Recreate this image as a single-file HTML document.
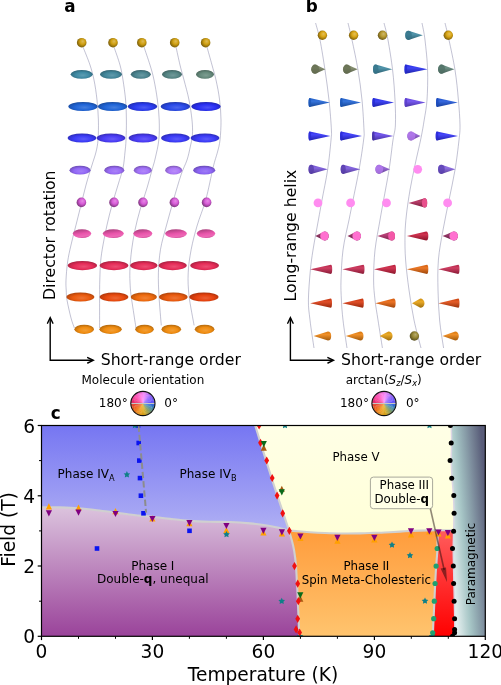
<!DOCTYPE html>
<html><head><meta charset="utf-8"><title>Figure</title><style>html,body{margin:0;padding:0;background:#fff}</style></head><body>
<svg width="501" height="685" viewBox="0 0 501 685" font-family="'DejaVu Sans','Liberation Sans',sans-serif" style="display:block"><defs><radialGradient id="rg1" cx="0.55" cy="0.45" r="0.62" fx="0.62" fy="0.34"><stop offset="0" stop-color="#debc59"/><stop offset="0.45" stop-color="#d0a012"/><stop offset="1" stop-color="#685009"/></radialGradient><radialGradient id="rg2" cx="0.5" cy="0.56" r="0.62" fx="0.56" fy="0.62"><stop offset="0" stop-color="#5e9db2"/><stop offset="0.5" stop-color="#3f8aa3"/><stop offset="1" stop-color="#2b5e6f"/></radialGradient><radialGradient id="rg3" cx="0.5" cy="0.56" r="0.62" fx="0.56" fy="0.62"><stop offset="0" stop-color="#619aab"/><stop offset="0.5" stop-color="#43879b"/><stop offset="1" stop-color="#2e5c69"/></radialGradient><radialGradient id="rg4" cx="0.5" cy="0.56" r="0.62" fx="0.56" fy="0.62"><stop offset="0" stop-color="#6999a2"/><stop offset="0.5" stop-color="#4c8590"/><stop offset="1" stop-color="#345a62"/></radialGradient><radialGradient id="rg5" cx="0.5" cy="0.56" r="0.62" fx="0.56" fy="0.62"><stop offset="0" stop-color="#729999"/><stop offset="0.5" stop-color="#578685"/><stop offset="1" stop-color="#3b5b5a"/></radialGradient><radialGradient id="rg6" cx="0.5" cy="0.56" r="0.62" fx="0.56" fy="0.62"><stop offset="0" stop-color="#7e9d91"/><stop offset="0.5" stop-color="#668a7c"/><stop offset="1" stop-color="#455e54"/></radialGradient><radialGradient id="rg7" cx="0.5" cy="0.56" r="0.62" fx="0.56" fy="0.62"><stop offset="0" stop-color="#447ede"/><stop offset="0.5" stop-color="#2065d8"/><stop offset="1" stop-color="#164593"/></radialGradient><radialGradient id="rg8" cx="0.5" cy="0.56" r="0.62" fx="0.56" fy="0.62"><stop offset="0" stop-color="#4c5bf2"/><stop offset="0.5" stop-color="#2a3cf0"/><stop offset="1" stop-color="#1d29a3"/></radialGradient><radialGradient id="rg9" cx="0.5" cy="0.56" r="0.62" fx="0.56" fy="0.62"><stop offset="0" stop-color="#4c67ec"/><stop offset="0.5" stop-color="#2a4ae8"/><stop offset="1" stop-color="#1d329e"/></radialGradient><radialGradient id="rg10" cx="0.5" cy="0.56" r="0.62" fx="0.56" fy="0.62"><stop offset="0" stop-color="#4c51f6"/><stop offset="0.5" stop-color="#2a30f4"/><stop offset="1" stop-color="#1d21a6"/></radialGradient><radialGradient id="rg11" cx="0.5" cy="0.56" r="0.62" fx="0.56" fy="0.62"><stop offset="0" stop-color="#5b5bf9"/><stop offset="0.5" stop-color="#3c3cf8"/><stop offset="1" stop-color="#2929a9"/></radialGradient><radialGradient id="rg12" cx="0.5" cy="0.56" r="0.62" fx="0.56" fy="0.62"><stop offset="0" stop-color="#675bf7"/><stop offset="0.5" stop-color="#4a3cf6"/><stop offset="1" stop-color="#3229a7"/></radialGradient><radialGradient id="rg13" cx="0.5" cy="0.56" r="0.62" fx="0.56" fy="0.62"><stop offset="0" stop-color="#a380f7"/><stop offset="0.5" stop-color="#9268f6"/><stop offset="1" stop-color="#6347a7"/></radialGradient><radialGradient id="rg14" cx="0.5" cy="0.56" r="0.62" fx="0.56" fy="0.62"><stop offset="0" stop-color="#aa84f7"/><stop offset="0.5" stop-color="#9a6cf6"/><stop offset="1" stop-color="#6949a7"/></radialGradient><radialGradient id="rg15" cx="0.5" cy="0.56" r="0.62" fx="0.56" fy="0.62"><stop offset="0" stop-color="#b189f9"/><stop offset="0.5" stop-color="#a272f8"/><stop offset="1" stop-color="#6e4ea9"/></radialGradient><radialGradient id="rg16" cx="0.5" cy="0.56" r="0.62" fx="0.56" fy="0.62"><stop offset="0" stop-color="#b98ef9"/><stop offset="0.5" stop-color="#ac78f8"/><stop offset="1" stop-color="#7552a9"/></radialGradient><radialGradient id="rg17" cx="0.5" cy="0.56" r="0.62" fx="0.56" fy="0.62"><stop offset="0" stop-color="#9e7df6"/><stop offset="0.5" stop-color="#8c64f4"/><stop offset="1" stop-color="#5f44a6"/></radialGradient><radialGradient id="rg18" cx="0.55" cy="0.45" r="0.62" fx="0.62" fy="0.34"><stop offset="0" stop-color="#e48de4"/><stop offset="0.45" stop-color="#d85cd8"/><stop offset="1" stop-color="#6c2e6c"/></radialGradient><linearGradient id="rg19" x1="0.2" y1="0" x2="0.5" y2="1"><stop offset="0" stop-color="#a43c78"/><stop offset="0.55" stop-color="#ea56ac"/><stop offset="0.85" stop-color="#ed6ab6"/><stop offset="1" stop-color="#d34d9b"/></linearGradient><radialGradient id="rg20" cx="0.5" cy="0.56" r="0.62" fx="0.56" fy="0.62"><stop offset="0" stop-color="#ea4e73"/><stop offset="0.5" stop-color="#e62c58"/><stop offset="1" stop-color="#9c1e3c"/></radialGradient><radialGradient id="rg21" cx="0.5" cy="0.56" r="0.62" fx="0.56" fy="0.62"><stop offset="0" stop-color="#ed7435"/><stop offset="0.5" stop-color="#ea5a0e"/><stop offset="1" stop-color="#9f3d0a"/></radialGradient><radialGradient id="rg22" cx="0.5" cy="0.56" r="0.62" fx="0.56" fy="0.62"><stop offset="0" stop-color="#ec6735"/><stop offset="0.5" stop-color="#e84a0e"/><stop offset="1" stop-color="#9e320a"/></radialGradient><radialGradient id="rg23" cx="0.5" cy="0.56" r="0.62" fx="0.56" fy="0.62"><stop offset="0" stop-color="#f18235"/><stop offset="0.5" stop-color="#ee6a0e"/><stop offset="1" stop-color="#a2480a"/></radialGradient><radialGradient id="rg24" cx="0.5" cy="0.56" r="0.62" fx="0.56" fy="0.62"><stop offset="0" stop-color="#ea6035"/><stop offset="0.5" stop-color="#e6420e"/><stop offset="1" stop-color="#9c2d0a"/></radialGradient><radialGradient id="rg25" cx="0.5" cy="0.56" r="0.62" fx="0.56" fy="0.62"><stop offset="0" stop-color="#f29e36"/><stop offset="0.5" stop-color="#f08c10"/><stop offset="1" stop-color="#a35f0b"/></radialGradient><radialGradient id="rg26" cx="0.55" cy="0.45" r="0.62" fx="0.62" fy="0.34"><stop offset="0" stop-color="#e4c05a"/><stop offset="0.45" stop-color="#d9a514"/><stop offset="1" stop-color="#6c520a"/></radialGradient><radialGradient id="rg27" cx="0.55" cy="0.45" r="0.62" fx="0.62" fy="0.34"><stop offset="0" stop-color="#cdb86e"/><stop offset="0.45" stop-color="#b89a30"/><stop offset="1" stop-color="#5c4d18"/></radialGradient><linearGradient id="lg28" x1="0" y1="0" x2="0" y2="1"><stop offset="0" stop-color="#397c93"/><stop offset="0.35" stop-color="#5296ac"/><stop offset="1" stop-color="#2b5e6f"/></linearGradient><linearGradient id="lg29" x1="0" y1="0" x2="0" y2="1"><stop offset="0" stop-color="#6e7758"/><stop offset="0.35" stop-color="#879072"/><stop offset="1" stop-color="#535a43"/></linearGradient><linearGradient id="lg30" x1="0" y1="0" x2="0" y2="1"><stop offset="0" stop-color="#262bdc"/><stop offset="0.35" stop-color="#3f45f5"/><stop offset="1" stop-color="#1d21a6"/></linearGradient><linearGradient id="lg31" x1="0" y1="0" x2="0" y2="1"><stop offset="0" stop-color="#56786c"/><stop offset="0.35" stop-color="#6f9186"/><stop offset="1" stop-color="#415a52"/></linearGradient><linearGradient id="lg32" x1="0" y1="0" x2="0" y2="1"><stop offset="0" stop-color="#1d5bc2"/><stop offset="0.35" stop-color="#3674dc"/><stop offset="1" stop-color="#164593"/></linearGradient><linearGradient id="lg33" x1="0" y1="0" x2="0" y2="1"><stop offset="0" stop-color="#5f41d6"/><stop offset="0.35" stop-color="#795af0"/><stop offset="1" stop-color="#4831a2"/></linearGradient><linearGradient id="lg34" x1="0" y1="0" x2="0" y2="1"><stop offset="0" stop-color="#1d4fc6"/><stop offset="0.35" stop-color="#3669e0"/><stop offset="1" stop-color="#163c96"/></linearGradient><linearGradient id="lg35" x1="0" y1="0" x2="0" y2="1"><stop offset="0" stop-color="#2d2de1"/><stop offset="0.35" stop-color="#4646fa"/><stop offset="1" stop-color="#2222aa"/></linearGradient><linearGradient id="lg36" x1="0" y1="0" x2="0" y2="1"><stop offset="0" stop-color="#5a3fd3"/><stop offset="0.35" stop-color="#7458ec"/><stop offset="1" stop-color="#44309f"/></linearGradient><linearGradient id="lg37" x1="0" y1="0" x2="0" y2="1"><stop offset="0" stop-color="#804fbb"/><stop offset="0.35" stop-color="#9969d5"/><stop offset="1" stop-color="#613c8d"/></linearGradient><linearGradient id="lg38" x1="0" y1="0" x2="0" y2="1"><stop offset="0" stop-color="#6c4dc6"/><stop offset="0.35" stop-color="#8667e0"/><stop offset="1" stop-color="#523a96"/></linearGradient><linearGradient id="lg39" x1="0" y1="0" x2="0" y2="1"><stop offset="0" stop-color="#7e51bb"/><stop offset="0.35" stop-color="#986ad5"/><stop offset="1" stop-color="#5f3d8d"/></linearGradient><linearGradient id="lg40" x1="0" y1="0" x2="0" y2="1"><stop offset="0" stop-color="#7756ca"/><stop offset="0.35" stop-color="#9070e3"/><stop offset="1" stop-color="#5a4198"/></linearGradient><linearGradient id="lg41" x1="0" y1="0" x2="0" y2="1"><stop offset="0" stop-color="#9e244f"/><stop offset="0.35" stop-color="#b83e69"/><stop offset="1" stop-color="#781b3c"/></linearGradient><linearGradient id="lg42" x1="0" y1="0" x2="0" y2="1"><stop offset="0" stop-color="#7c204f"/><stop offset="0.35" stop-color="#963a69"/><stop offset="1" stop-color="#5e183c"/></linearGradient><linearGradient id="lg43" x1="0" y1="0" x2="0" y2="1"><stop offset="0" stop-color="#9e285e"/><stop offset="0.35" stop-color="#b84177"/><stop offset="1" stop-color="#781e47"/></linearGradient><linearGradient id="lg44" x1="0" y1="0" x2="0" y2="1"><stop offset="0" stop-color="#b41936"/><stop offset="0.35" stop-color="#ce3350"/><stop offset="1" stop-color="#881329"/></linearGradient><linearGradient id="lg45" x1="0" y1="0" x2="0" y2="1"><stop offset="0" stop-color="#b42448"/><stop offset="0.35" stop-color="#ce3e62"/><stop offset="1" stop-color="#881b36"/></linearGradient><linearGradient id="lg46" x1="0" y1="0" x2="0" y2="1"><stop offset="0" stop-color="#b81d3a"/><stop offset="0.35" stop-color="#d13653"/><stop offset="1" stop-color="#8b162c"/></linearGradient><linearGradient id="lg47" x1="0" y1="0" x2="0" y2="1"><stop offset="0" stop-color="#d15e0d"/><stop offset="0.35" stop-color="#ea7726"/><stop offset="1" stop-color="#9e470a"/></linearGradient><linearGradient id="lg48" x1="0" y1="0" x2="0" y2="1"><stop offset="0" stop-color="#c6340e"/><stop offset="0.35" stop-color="#e04e28"/><stop offset="1" stop-color="#96270b"/></linearGradient><linearGradient id="lg49" x1="0" y1="0" x2="0" y2="1"><stop offset="0" stop-color="#d35a0d"/><stop offset="0.35" stop-color="#ec7426"/><stop offset="1" stop-color="#9f440a"/></linearGradient><linearGradient id="lg50" x1="0" y1="0" x2="0" y2="1"><stop offset="0" stop-color="#d1900e"/><stop offset="0.35" stop-color="#eaaa28"/><stop offset="1" stop-color="#9e6d0b"/></linearGradient><linearGradient id="lg51" x1="0" y1="0" x2="0" y2="1"><stop offset="0" stop-color="#ca430e"/><stop offset="0.35" stop-color="#e35c28"/><stop offset="1" stop-color="#98320b"/></linearGradient><linearGradient id="lg52" x1="0" y1="0" x2="0" y2="1"><stop offset="0" stop-color="#d6770e"/><stop offset="0.35" stop-color="#f09028"/><stop offset="1" stop-color="#a25a0b"/></linearGradient><radialGradient id="rg53" cx="0.55" cy="0.45" r="0.62" fx="0.62" fy="0.34"><stop offset="0" stop-color="#b8ad74"/><stop offset="0.45" stop-color="#9a8a38"/><stop offset="1" stop-color="#4d451c"/></radialGradient><radialGradient id="wg54" cx="0.5" cy="0.5" r="0.5"><stop offset="0" stop-color="#fff" stop-opacity="0.05"/><stop offset="0.6" stop-color="#fff" stop-opacity="0"/><stop offset="1" stop-color="#000" stop-opacity="0.10"/></radialGradient><radialGradient id="wg55" cx="0.5" cy="0.5" r="0.5"><stop offset="0" stop-color="#fff" stop-opacity="0.05"/><stop offset="0.6" stop-color="#fff" stop-opacity="0"/><stop offset="1" stop-color="#000" stop-opacity="0.10"/></radialGradient><clipPath id="ax"><rect x="41.5" y="425.5" width="443.8" height="210.79999999999995"/></clipPath><linearGradient id="gIV" x1="0" y1="425.5" x2="0" y2="530.9" gradientUnits="userSpaceOnUse"><stop offset="0" stop-color="#7676f2"/><stop offset="1" stop-color="#b0b0f4"/></linearGradient><linearGradient id="gI" x1="0" y1="506.3066666666666" x2="0" y2="636.3" gradientUnits="userSpaceOnUse"><stop offset="0" stop-color="#dcc4de"/><stop offset="1" stop-color="#9a439a"/></linearGradient><linearGradient id="gII" x1="0" y1="530.9" x2="0" y2="636.3" gradientUnits="userSpaceOnUse"><stop offset="0" stop-color="#ff9c3c"/><stop offset="1" stop-color="#ffc46e"/></linearGradient><linearGradient id="gIII" x1="0" y1="530.9" x2="0" y2="636.3" gradientUnits="userSpaceOnUse"><stop offset="0" stop-color="#ff5c5c"/><stop offset="1" stop-color="#ff0000"/></linearGradient><linearGradient id="gV" x1="0" y1="425.5" x2="0" y2="530.9" gradientUnits="userSpaceOnUse"><stop offset="0" stop-color="#ffffe6"/><stop offset="1" stop-color="#ffffd8"/></linearGradient><linearGradient id="gPM" x1="452" y1="636" x2="496.7" y2="632.5" gradientUnits="userSpaceOnUse"><stop offset="0.000" stop-color="#ffffff"/><stop offset="0.083" stop-color="#eef4f4"/><stop offset="0.167" stop-color="#dce9e9"/><stop offset="0.250" stop-color="#cbdede"/><stop offset="0.333" stop-color="#b9d2d2"/><stop offset="0.417" stop-color="#a8c7c7"/><stop offset="0.500" stop-color="#9cb8bc"/><stop offset="0.583" stop-color="#91a9b1"/><stop offset="0.667" stop-color="#869aa6"/><stop offset="0.750" stop-color="#7b8a9b"/><stop offset="0.833" stop-color="#707b8f"/><stop offset="0.917" stop-color="#646c84"/><stop offset="1.000" stop-color="#595c79"/></linearGradient></defs>
<path d="M83.0 47.0 C84.2 50.0 88.2 59.5 90.0 65.0 C91.8 70.5 92.8 74.2 94.0 80.0 C95.2 85.8 96.3 93.3 97.0 100.0 C97.7 106.7 98.2 113.3 98.4 120.0 C98.6 126.7 98.4 134.7 98.0 140.0 C97.6 145.3 97.0 147.8 96.0 152.0 C95.0 156.2 93.7 159.5 92.0 165.0 C90.3 170.5 87.8 178.3 86.0 185.0 C84.2 191.7 82.7 198.3 81.0 205.0 C79.3 211.7 77.7 218.3 76.0 225.0 C74.3 231.7 72.4 238.8 71.0 245.0 C69.6 251.2 68.4 256.2 67.6 262.0 C66.8 267.8 66.2 275.3 66.0 280.0 C65.8 284.7 66.0 286.7 66.2 290.0 C66.4 293.3 66.2 295.3 67.0 300.0 C67.8 304.7 69.8 313.3 71.0 318.0 C72.2 322.7 73.8 326.3 74.4 328.0" fill="none" stroke="#6c6c94" stroke-width="0.42"/>
<path d="M114.0 47.0 C115.0 50.0 118.5 59.5 120.0 65.0 C121.5 70.5 122.1 74.2 123.0 80.0 C123.9 85.8 125.0 93.3 125.6 100.0 C126.2 106.7 126.3 113.3 126.4 120.0 C126.5 126.7 126.2 134.7 126.0 140.0 C125.8 145.3 125.5 147.3 125.0 152.0 C124.5 156.7 124.2 162.5 123.0 168.0 C121.8 173.5 119.8 178.8 118.0 185.0 C116.2 191.2 113.8 198.3 112.0 205.0 C110.2 211.7 108.5 218.3 107.0 225.0 C105.5 231.7 104.1 238.8 103.0 245.0 C101.9 251.2 101.1 256.2 100.6 262.0 C100.1 267.8 100.0 273.7 99.8 280.0 C99.6 286.3 99.6 292.0 99.6 300.0 C99.6 308.0 99.6 323.3 99.6 328.0" fill="none" stroke="#6c6c94" stroke-width="0.42"/>
<path d="M144.0 47.0 C145.0 50.0 148.3 59.5 150.0 65.0 C151.7 70.5 152.8 74.2 154.0 80.0 C155.2 85.8 156.5 93.3 157.4 100.0 C158.3 106.7 159.0 113.3 159.2 120.0 C159.4 126.7 159.5 133.7 158.8 140.0 C158.2 146.3 156.4 153.0 155.3 158.0 C154.2 163.0 153.4 165.0 152.0 170.0 C150.6 175.0 149.0 181.3 147.0 188.0 C145.0 194.7 142.0 203.0 140.0 210.0 C138.0 217.0 136.4 223.3 135.0 230.0 C133.6 236.7 132.4 243.7 131.6 250.0 C130.8 256.3 130.3 262.7 130.0 268.0 C129.7 273.3 129.8 277.5 130.0 282.0 C130.2 286.5 130.3 289.5 131.0 295.0 C131.7 300.5 133.2 309.5 134.0 315.0 C134.8 320.5 135.7 325.8 136.0 328.0" fill="none" stroke="#6c6c94" stroke-width="0.42"/>
<path d="M176.0 47.0 C176.7 50.0 178.7 59.5 180.0 65.0 C181.3 70.5 182.5 74.2 184.0 80.0 C185.5 85.8 187.7 93.3 189.0 100.0 C190.3 106.7 191.4 114.2 192.0 120.0 C192.6 125.8 192.7 130.3 192.4 135.0 C192.1 139.7 190.9 143.8 190.0 148.0 C189.1 152.2 188.5 155.5 187.0 160.0 C185.5 164.5 183.2 168.4 181.0 175.0 C178.8 181.6 176.0 191.2 173.6 199.7 C171.2 208.2 168.5 217.7 166.3 226.0 C164.1 234.3 161.8 241.6 160.5 249.4 C159.2 257.2 158.7 265.0 158.4 272.8 C158.2 280.6 158.5 287.4 159.0 296.2 C159.5 305.0 160.9 320.5 161.3 325.4" fill="none" stroke="#6c6c94" stroke-width="0.42"/>
<path d="M207.0 47.0 C207.8 50.0 210.5 59.5 212.0 65.0 C213.5 70.5 214.7 74.2 216.0 80.0 C217.3 85.8 218.8 93.3 219.6 100.0 C220.4 106.7 220.9 113.3 221.0 120.0 C221.1 126.7 220.6 134.7 220.0 140.0 C219.4 145.3 218.7 147.4 217.5 152.0 C216.3 156.6 215.0 159.6 213.1 167.5 C211.2 175.4 208.5 189.9 205.8 199.7 C203.1 209.4 199.4 217.7 197.0 226.0 C194.6 234.3 192.7 241.6 191.2 249.4 C189.7 257.2 188.5 265.0 188.2 272.8 C187.8 280.6 188.1 287.4 189.1 296.2 C190.1 305.0 193.3 320.5 194.1 325.4" fill="none" stroke="#6c6c94" stroke-width="0.42"/>
<ellipse cx="81.7" cy="42.7" rx="4.8" ry="4.8" fill="url(#rg1)"/>
<ellipse cx="113" cy="42.7" rx="4.8" ry="4.8" fill="url(#rg1)"/>
<ellipse cx="141.8" cy="42.7" rx="4.8" ry="4.8" fill="url(#rg1)"/>
<ellipse cx="174.7" cy="42.7" rx="4.8" ry="4.8" fill="url(#rg1)"/>
<ellipse cx="205.6" cy="42.7" rx="4.8" ry="4.8" fill="url(#rg1)"/>
<ellipse cx="81.7" cy="74.3" rx="11" ry="4.4" fill="url(#rg2)"/>
<ellipse cx="111" cy="74.3" rx="11" ry="4.4" fill="url(#rg3)"/>
<ellipse cx="140.8" cy="74.3" rx="10" ry="4.4" fill="url(#rg4)"/>
<ellipse cx="172" cy="74.3" rx="10" ry="4.4" fill="url(#rg5)"/>
<ellipse cx="205" cy="74.3" rx="9" ry="4.4" fill="url(#rg6)"/>
<ellipse cx="83" cy="106.5" rx="14.6" ry="4.5" fill="url(#rg7)"/>
<ellipse cx="112.6" cy="106.5" rx="14.6" ry="4.5" fill="url(#rg7)"/>
<ellipse cx="142.5" cy="106.5" rx="14.6" ry="4.5" fill="url(#rg8)"/>
<ellipse cx="175.4" cy="106.5" rx="14.6" ry="4.5" fill="url(#rg9)"/>
<ellipse cx="206" cy="106.5" rx="14.6" ry="4.5" fill="url(#rg10)"/>
<ellipse cx="82" cy="138" rx="14.3" ry="4.5" fill="url(#rg11)"/>
<ellipse cx="111" cy="138" rx="14.3" ry="4.5" fill="url(#rg12)"/>
<ellipse cx="143" cy="138" rx="14.3" ry="4.5" fill="url(#rg12)"/>
<ellipse cx="175.4" cy="138" rx="14.3" ry="4.5" fill="url(#rg11)"/>
<ellipse cx="205" cy="138" rx="14.3" ry="4.5" fill="url(#rg11)"/>
<ellipse cx="80" cy="170.2" rx="10.5" ry="4.4" fill="url(#rg13)"/>
<ellipse cx="114.3" cy="170.2" rx="10" ry="4.4" fill="url(#rg14)"/>
<ellipse cx="142.8" cy="170.2" rx="9" ry="4.4" fill="url(#rg15)"/>
<ellipse cx="173.7" cy="170.2" rx="8.5" ry="4.4" fill="url(#rg16)"/>
<ellipse cx="204.2" cy="170.2" rx="11" ry="4.4" fill="url(#rg17)"/>
<ellipse cx="81.4" cy="202.4" rx="4.8" ry="4.8" fill="url(#rg18)"/>
<ellipse cx="114" cy="202.4" rx="4.8" ry="4.8" fill="url(#rg18)"/>
<ellipse cx="143" cy="202.4" rx="4.8" ry="4.8" fill="url(#rg18)"/>
<ellipse cx="174.4" cy="202.4" rx="4.8" ry="4.8" fill="url(#rg18)"/>
<ellipse cx="206.6" cy="202.4" rx="4.8" ry="4.8" fill="url(#rg18)"/>
<ellipse cx="82" cy="233.6" rx="9.2" ry="4.4" fill="url(#rg19)"/>
<ellipse cx="113.3" cy="233.6" rx="10.5" ry="4.4" fill="url(#rg19)"/>
<ellipse cx="142.8" cy="233.6" rx="9.5" ry="4.4" fill="url(#rg19)"/>
<ellipse cx="176" cy="233.6" rx="10.9" ry="4.4" fill="url(#rg19)"/>
<ellipse cx="206" cy="233.6" rx="9.2" ry="4.4" fill="url(#rg19)"/>
<ellipse cx="82.4" cy="265.6" rx="14.6" ry="4.6" fill="url(#rg20)"/>
<ellipse cx="114" cy="265.6" rx="14.3" ry="4.6" fill="url(#rg20)"/>
<ellipse cx="143.8" cy="265.6" rx="13.6" ry="4.6" fill="url(#rg20)"/>
<ellipse cx="172.7" cy="265.6" rx="14" ry="4.6" fill="url(#rg20)"/>
<ellipse cx="204.6" cy="265.6" rx="14.3" ry="4.6" fill="url(#rg20)"/>
<ellipse cx="80.4" cy="297" rx="13.9" ry="4.6" fill="url(#rg21)"/>
<ellipse cx="114" cy="297" rx="14.3" ry="4.6" fill="url(#rg22)"/>
<ellipse cx="143.8" cy="297" rx="13" ry="4.6" fill="url(#rg23)"/>
<ellipse cx="173.3" cy="297" rx="14.3" ry="4.6" fill="url(#rg21)"/>
<ellipse cx="203.9" cy="297" rx="14.6" ry="4.6" fill="url(#rg24)"/>
<ellipse cx="84.2" cy="329.3" rx="9.8" ry="4.6" fill="url(#rg25)"/>
<ellipse cx="110.6" cy="329.3" rx="11.2" ry="4.6" fill="url(#rg25)"/>
<ellipse cx="144.5" cy="329.3" rx="9.3" ry="4.6" fill="url(#rg25)"/>
<ellipse cx="171.3" cy="329.3" rx="9.8" ry="4.6" fill="url(#rg25)"/>
<ellipse cx="204.6" cy="329.3" rx="9.8" ry="4.6" fill="url(#rg25)"/>
<path d="M315.6 23.0 C316.3 25.8 318.4 32.2 320.0 40.0 C321.6 47.8 323.5 60.0 325.0 70.0 C326.5 80.0 327.9 90.0 329.0 100.0 C330.1 110.0 331.1 123.3 331.4 130.0 C331.7 136.7 331.6 133.3 331.0 140.0 C330.4 146.7 329.1 160.0 327.6 170.0 C326.1 180.0 323.5 191.7 322.0 200.0 C320.5 208.3 319.9 211.7 318.4 220.0 C316.9 228.3 314.3 241.7 313.0 250.0 C311.7 258.3 311.2 261.7 310.4 270.0 C309.6 278.3 308.5 291.7 308.4 300.0 C308.3 308.3 309.1 312.0 310.0 320.0 C310.9 328.0 313.3 343.3 314.0 348.0" fill="none" stroke="#6c6c94" stroke-width="0.42"/>
<path d="M348.0 23.0 C348.7 25.8 350.3 32.2 352.0 40.0 C353.7 47.8 356.3 60.0 358.0 70.0 C359.7 80.0 361.0 90.0 362.0 100.0 C363.0 110.0 363.7 123.3 364.0 130.0 C364.3 136.7 364.4 133.3 363.6 140.0 C362.8 146.7 360.8 160.0 359.0 170.0 C357.2 180.0 354.7 191.7 353.0 200.0 C351.3 208.3 350.7 211.7 349.0 220.0 C347.3 228.3 344.3 240.0 343.0 250.0 C341.7 260.0 341.3 271.7 341.0 280.0 C340.7 288.3 341.1 293.3 341.4 300.0 C341.7 306.7 342.1 312.0 343.0 320.0 C343.9 328.0 346.3 343.3 347.0 348.0" fill="none" stroke="#6c6c94" stroke-width="0.42"/>
<path d="M384.0 23.0 C384.7 25.8 386.6 32.2 388.0 40.0 C389.4 47.8 391.4 60.0 392.6 70.0 C393.8 80.0 394.5 90.8 395.0 100.0 C395.5 109.2 395.7 118.3 395.4 125.0 C395.1 131.7 394.1 132.5 393.0 140.0 C391.9 147.5 390.6 160.0 389.0 170.0 C387.4 180.0 385.1 191.7 383.6 200.0 C382.1 208.3 381.4 211.7 380.0 220.0 C378.6 228.3 376.1 240.0 375.0 250.0 C373.9 260.0 373.6 271.7 373.6 280.0 C373.6 288.3 374.3 293.3 375.0 300.0 C375.7 306.7 376.8 312.0 378.0 320.0 C379.2 328.0 381.7 343.3 382.4 348.0" fill="none" stroke="#6c6c94" stroke-width="0.42"/>
<path d="M422.0 23.0 C422.5 25.8 424.1 32.2 425.0 40.0 C425.9 47.8 427.3 60.0 427.6 70.0 C427.9 80.0 427.6 91.7 427.0 100.0 C426.4 108.3 425.2 113.7 424.2 120.0 C423.2 126.3 422.5 130.5 421.0 138.0 C419.5 145.5 416.8 156.3 415.0 165.0 C413.2 173.7 411.4 181.7 410.0 190.0 C408.6 198.3 407.2 207.5 406.4 215.0 C405.6 222.5 405.1 227.5 405.0 235.0 C404.9 242.5 404.9 250.8 405.6 260.0 C406.3 269.2 407.6 280.0 409.0 290.0 C410.4 300.0 412.0 310.3 414.0 320.0 C416.0 329.7 419.8 343.3 421.0 348.0" fill="none" stroke="#6c6c94" stroke-width="0.42"/>
<path d="M445.0 23.0 C445.7 25.8 447.3 32.2 449.0 40.0 C450.7 47.8 453.4 60.0 455.0 70.0 C456.6 80.0 457.6 90.8 458.4 100.0 C459.2 109.2 459.9 118.3 460.0 125.0 C460.1 131.7 459.8 132.5 459.0 140.0 C458.2 147.5 456.7 160.0 455.0 170.0 C453.3 180.0 451.0 190.0 449.0 200.0 C447.0 210.0 444.8 220.0 443.0 230.0 C441.2 240.0 439.2 250.0 438.4 260.0 C437.6 270.0 437.8 280.0 438.0 290.0 C438.2 300.0 438.7 310.3 439.6 320.0 C440.5 329.7 442.9 343.3 443.6 348.0" fill="none" stroke="#6c6c94" stroke-width="0.42"/>
<circle cx="322.4" cy="35.3" r="4.7" fill="url(#rg26)"/>
<circle cx="353.6" cy="35.3" r="4.7" fill="url(#rg26)"/>
<circle cx="382.5" cy="35.3" r="4.7" fill="url(#rg27)"/>
<path d="M408.5 30.699999999999996 L422.8 35.3 L408.5 39.9 A3.29 4.6 0 0 1 408.5 30.699999999999996Z" fill="url(#lg28)"/>
<ellipse cx="408.5" cy="35.3" rx="3.29" ry="4.6" fill="#357489" opacity="0.75"/>
<circle cx="448.3" cy="35.3" r="4.7" fill="url(#rg26)"/>
<path d="M315.2 64.60000000000001 L325.4 69.2 L315.2 73.8 A3.99 4.6 0 0 1 315.2 64.60000000000001Z" fill="url(#lg29)"/>
<ellipse cx="315.2" cy="69.2" rx="3.99" ry="4.6" fill="#666f52" opacity="0.75"/>
<path d="M346.9 64.60000000000001 L357.7 69.2 L346.9 73.8 A3.91 4.6 0 0 1 346.9 64.60000000000001Z" fill="url(#lg29)"/>
<ellipse cx="346.9" cy="69.2" rx="3.91" ry="4.6" fill="#666f52" opacity="0.75"/>
<path d="M375.7 64.60000000000001 L392.3 69.2 L375.7 73.8 A2.7 4.6 0 0 1 375.7 64.60000000000001Z" fill="url(#lg28)"/>
<ellipse cx="375.7" cy="69.2" rx="2.7" ry="4.6" fill="#357489" opacity="0.75"/>
<path d="M405.8 64.60000000000001 L427.6 69.2 L405.8 73.8 A1.3 4.6 0 0 1 405.8 64.60000000000001Z" fill="url(#lg30)"/>
<ellipse cx="405.8" cy="69.2" rx="1.3" ry="4.6" fill="#2328cd" opacity="0.75"/>
<path d="M441.6 64.60000000000001 L454.4 69.2 L441.6 73.8 A3.59 4.6 0 0 1 441.6 64.60000000000001Z" fill="url(#lg31)"/>
<ellipse cx="441.6" cy="69.2" rx="3.59" ry="4.6" fill="#507065" opacity="0.75"/>
<path d="M309.8 97.9 L329.9 102.5 L309.8 107.1 A1.3 4.6 0 0 1 309.8 97.9Z" fill="url(#lg32)"/>
<ellipse cx="309.8" cy="102.5" rx="1.3" ry="4.6" fill="#1b55b5" opacity="0.75"/>
<path d="M341.3 97.9 L361 102.5 L341.3 107.1 A1.3 4.6 0 0 1 341.3 97.9Z" fill="url(#lg32)"/>
<ellipse cx="341.3" cy="102.5" rx="1.3" ry="4.6" fill="#1b55b5" opacity="0.75"/>
<path d="M373.6 97.9 L394 102.5 L373.6 107.1 A1.3 4.6 0 0 1 373.6 97.9Z" fill="url(#lg30)"/>
<ellipse cx="373.6" cy="102.5" rx="1.3" ry="4.6" fill="#2328cd" opacity="0.75"/>
<path d="M405.8 97.9 L425.6 102.5 L405.8 107.1 A1.3 4.6 0 0 1 405.8 97.9Z" fill="url(#lg33)"/>
<ellipse cx="405.8" cy="102.5" rx="1.3" ry="4.6" fill="#593cc8" opacity="0.75"/>
<path d="M437.3 97.9 L457.8 102.5 L437.3 107.1 A1.3 4.6 0 0 1 437.3 97.9Z" fill="url(#lg34)"/>
<ellipse cx="437.3" cy="102.5" rx="1.3" ry="4.6" fill="#1b4ab9" opacity="0.75"/>
<path d="M309.8 131.4 L330.5 136 L309.8 140.6 A1.3 4.6 0 0 1 309.8 131.4Z" fill="url(#lg35)"/>
<ellipse cx="309.8" cy="136" rx="1.3" ry="4.6" fill="#2a2ad2" opacity="0.75"/>
<path d="M341.3 131.4 L362 136 L341.3 140.6 A1.3 4.6 0 0 1 341.3 131.4Z" fill="url(#lg35)"/>
<ellipse cx="341.3" cy="136" rx="1.3" ry="4.6" fill="#2a2ad2" opacity="0.75"/>
<path d="M373.3 131.4 L393.3 136 L373.3 140.6 A1.3 4.6 0 0 1 373.3 131.4Z" fill="url(#lg36)"/>
<ellipse cx="373.3" cy="136" rx="1.3" ry="4.6" fill="#40309c" opacity="0.75"/>
<path d="M411.3 131.4 L420.5 136 L411.3 140.6 A4.11 4.6 0 0 1 411.3 131.4Z" fill="url(#lg37)"/>
<ellipse cx="411.3" cy="136" rx="4.11" ry="4.6" fill="#b87cf2" opacity="0.75"/>
<path d="M437.0 131.4 L458 136 L437.0 140.6 A1.3 4.6 0 0 1 437.0 131.4Z" fill="url(#lg35)"/>
<ellipse cx="437.0" cy="136" rx="1.3" ry="4.6" fill="#2a2ad2" opacity="0.75"/>
<path d="M311.2 164.70000000000002 L327.8 169.3 L311.2 173.9 A2.7 4.6 0 0 1 311.2 164.70000000000002Z" fill="url(#lg38)"/>
<ellipse cx="311.2" cy="169.3" rx="2.7" ry="4.6" fill="#553ca8" opacity="0.75"/>
<path d="M343.2 164.70000000000002 L360.4 169.3 L343.2 173.9 A2.51 4.6 0 0 1 343.2 164.70000000000002Z" fill="url(#lg38)"/>
<ellipse cx="343.2" cy="169.3" rx="2.51" ry="4.6" fill="#553ca8" opacity="0.75"/>
<path d="M379.2 164.70000000000002 L390 169.3 L379.2 173.9 A3.91 4.6 0 0 1 379.2 164.70000000000002Z" fill="url(#lg39)"/>
<ellipse cx="379.2" cy="169.3" rx="3.91" ry="4.6" fill="#b87cf2" opacity="0.75"/>
<circle cx="417.7" cy="169.3" r="4.4" fill="#ff8cf0"/>
<path d="M441.4 164.70000000000002 L455.4 169.3 L441.4 173.9 A3.35 4.6 0 0 1 441.4 164.70000000000002Z" fill="url(#lg40)"/>
<ellipse cx="441.4" cy="169.3" rx="3.35" ry="4.6" fill="#5a40b0" opacity="0.75"/>
<circle cx="318" cy="202.9" r="4.4" fill="#ff8cf0"/>
<circle cx="350.6" cy="202.9" r="4.4" fill="#ff8cf0"/>
<circle cx="386.5" cy="202.9" r="4.4" fill="#ff8cf0"/>
<path d="M424.6 198.3 L408.6 202.9 L424.6 207.5 A2.6 4.6 0 0 0 424.6 198.3Z" fill="url(#lg41)"/>
<ellipse cx="424.6" cy="202.9" rx="2.6" ry="4.6" fill="#e8508c"/>
<circle cx="447.6" cy="202.9" r="4.4" fill="#ff8cf0"/>
<path d="M324.5 231.4 L315.3 236 L324.5 240.6 A4.3 4.6 0 0 0 324.5 231.4Z" fill="url(#lg42)"/>
<ellipse cx="324.5" cy="236" rx="4.3" ry="4.6" fill="#ff70d0"/>
<path d="M356.7 231.4 L347.5 236 L356.7 240.6 A4.3 4.6 0 0 0 356.7 231.4Z" fill="url(#lg42)"/>
<ellipse cx="356.7" cy="236" rx="4.3" ry="4.6" fill="#ff70d0"/>
<path d="M391.6 231.4 L377.4 236 L391.6 240.6 A3.4 4.6 0 0 0 391.6 231.4Z" fill="url(#lg43)"/>
<ellipse cx="391.6" cy="236" rx="3.4" ry="4.6" fill="#f458a8"/>
<path d="M426.1 231.4 L406.9 236 L426.1 240.6 A2.2 4.6 0 0 0 426.1 231.4Z" fill="url(#lg44)"/>
<path d="M453.7 231.4 L442.5 236 L453.7 240.6 A4.3 4.6 0 0 0 453.7 231.4Z" fill="url(#lg42)"/>
<ellipse cx="453.7" cy="236" rx="4.3" ry="4.6" fill="#ff70d0"/>
<path d="M330.9 264.7 L310.2 269.3 L330.9 273.90000000000003 A1.3 4.6 0 0 0 330.9 264.7Z" fill="url(#lg45)"/>
<path d="M363.2 264.7 L342.4 269.3 L363.2 273.90000000000003 A1.3 4.6 0 0 0 363.2 264.7Z" fill="url(#lg45)"/>
<path d="M394.7 264.7 L374 269.3 L394.7 273.90000000000003 A1.3 4.6 0 0 0 394.7 264.7Z" fill="url(#lg46)"/>
<path d="M427.0 264.7 L406.9 269.3 L427.0 273.90000000000003 A1.3 4.6 0 0 0 427.0 264.7Z" fill="url(#lg47)"/>
<path d="M458.2 264.7 L438.4 269.3 L458.2 273.90000000000003 A1.3 4.6 0 0 0 458.2 264.7Z" fill="url(#lg45)"/>
<path d="M330.7 298.59999999999997 L310.2 303.2 L330.7 307.8 A1.3 4.6 0 0 0 330.7 298.59999999999997Z" fill="url(#lg48)"/>
<path d="M362.5 298.59999999999997 L342.4 303.2 L362.5 307.8 A1.3 4.6 0 0 0 362.5 298.59999999999997Z" fill="url(#lg48)"/>
<path d="M393.6 298.59999999999997 L375.3 303.2 L393.6 307.8 A2.05 4.6 0 0 0 393.6 298.59999999999997Z" fill="url(#lg49)"/>
<path d="M420.3 298.59999999999997 L412 303.2 L420.3 307.8 A4.21 4.6 0 0 0 420.3 298.59999999999997Z" fill="url(#lg50)"/>
<path d="M458.2 298.59999999999997 L438.4 303.2 L458.2 307.8 A1.3 4.6 0 0 0 458.2 298.59999999999997Z" fill="url(#lg51)"/>
<path d="M327.9 331.4 L313.6 336 L327.9 340.6 A3.29 4.6 0 0 0 327.9 331.4Z" fill="url(#lg52)"/>
<path d="M360.2 331.4 L345.8 336 L360.2 340.6 A3.26 4.6 0 0 0 360.2 331.4Z" fill="url(#lg52)"/>
<path d="M388.4 331.4 L379.7 336 L388.4 340.6 A4.16 4.6 0 0 0 388.4 331.4Z" fill="url(#lg50)"/>
<circle cx="414.4" cy="336" r="4.7" fill="url(#rg53)"/>
<path d="M455.2 331.4 L442.5 336 L455.2 340.6 A3.61 4.6 0 0 0 455.2 331.4Z" fill="url(#lg52)"/>
<text x="64.3" y="12" font-size="16.8" text-anchor="start" font-weight="bold" fill="#000" >a</text>
<text x="305.8" y="12" font-size="16.8" text-anchor="start" font-weight="bold" fill="#000" >b</text>
<text x="50.8" y="419.2" font-size="16.8" text-anchor="start" font-weight="bold" fill="#000" >c</text>
<text x="100.7" y="364.8" font-size="15.7" text-anchor="start" font-weight="normal" fill="#000" >Short-range order</text>
<text x="341.1" y="364.8" font-size="15.7" text-anchor="start" font-weight="normal" fill="#000" >Short-range order</text>
<text transform="translate(54.6,235.2) rotate(-90)" font-size="15.7" text-anchor="middle">Director rotation</text>
<text transform="translate(296,235.6) rotate(-90)" font-size="15.7" text-anchor="middle">Long-range helix</text>
<text x="142.9" y="383.5" font-size="12.0" text-anchor="middle" font-weight="normal" fill="#000" >Molecule orientation</text>
<text x="383.7" y="383.5" font-size="12.0" text-anchor="middle" font-weight="normal" fill="#000" >arctan(<tspan font-style="italic">S</tspan><tspan font-style="italic" font-size="8.2" dy="2.2">z</tspan><tspan dy="-2.2">/</tspan><tspan font-style="italic">S</tspan><tspan font-style="italic" font-size="8.2" dy="2.2">x</tspan><tspan dy="-2.2">)</tspan></text>
<text x="127.7" y="407.4" font-size="12.0" text-anchor="end" font-weight="normal" fill="#000" >180°</text>
<text x="164.3" y="407.4" font-size="12.0" text-anchor="start" font-weight="normal" fill="#000" >0°</text>
<text x="368.9" y="407.4" font-size="12.0" text-anchor="end" font-weight="normal" fill="#000" >180°</text>
<text x="405.9" y="407.4" font-size="12.0" text-anchor="start" font-weight="normal" fill="#000" >0°</text>
<path d="M50.2 318.2 L50.2 360.3 L92.5 360.3" fill="none" stroke="#000" stroke-width="1.4" stroke-linejoin="miter"/>
<path d="M47.5 323.2 L50.2 317.6 L52.900000000000006 323.2" fill="none" stroke="#000" stroke-width="1.4" stroke-linecap="round" stroke-linejoin="miter"/>
<path d="M87.7 357.6 L93.30000000000001 360.3 L87.7 363.0" fill="none" stroke="#000" stroke-width="1.4" stroke-linecap="round" stroke-linejoin="miter"/>
<path d="M290.4 318.2 L290.4 360.3 L332.7 360.3" fill="none" stroke="#000" stroke-width="1.4" stroke-linejoin="miter"/>
<path d="M287.7 323.2 L290.4 317.6 L293.09999999999997 323.2" fill="none" stroke="#000" stroke-width="1.4" stroke-linecap="round" stroke-linejoin="miter"/>
<path d="M327.9 357.6 L333.5 360.3 L327.9 363.0" fill="none" stroke="#000" stroke-width="1.4" stroke-linecap="round" stroke-linejoin="miter"/>
<path d="M142.9 403.5 L155.00 403.50 A12.1 12.1 0 0 0 154.93 402.20Z" fill="#483aff"/>
<path d="M142.9 403.5 L154.95 402.45 A12.1 12.1 0 0 0 154.77 401.16Z" fill="#5140ff"/>
<path d="M142.9 403.5 L154.82 401.40 A12.1 12.1 0 0 0 154.52 400.14Z" fill="#5a44ff"/>
<path d="M142.9 403.5 L154.59 400.37 A12.1 12.1 0 0 0 154.19 399.13Z" fill="#634aff"/>
<path d="M142.9 403.5 L154.27 399.36 A12.1 12.1 0 0 0 153.76 398.17Z" fill="#6b4eff"/>
<path d="M142.9 403.5 L153.87 398.39 A12.1 12.1 0 0 0 153.26 397.24Z" fill="#7454ff"/>
<path d="M142.9 403.5 L153.38 397.45 A12.1 12.1 0 0 0 152.67 396.36Z" fill="#7d58ff"/>
<path d="M142.9 403.5 L152.81 396.56 A12.1 12.1 0 0 0 152.01 395.54Z" fill="#865eff"/>
<path d="M142.9 403.5 L152.17 395.72 A12.1 12.1 0 0 0 151.28 394.77Z" fill="#9062ff"/>
<path d="M142.9 403.5 L151.46 394.94 A12.1 12.1 0 0 0 150.49 394.08Z" fill="#9d66ff"/>
<path d="M142.9 403.5 L150.68 394.23 A12.1 12.1 0 0 0 149.64 393.45Z" fill="#aa6aff"/>
<path d="M142.9 403.5 L149.84 393.59 A12.1 12.1 0 0 0 148.74 392.90Z" fill="#b76eff"/>
<path d="M142.9 403.5 L148.95 393.02 A12.1 12.1 0 0 0 147.79 392.43Z" fill="#c372ff"/>
<path d="M142.9 403.5 L148.01 392.53 A12.1 12.1 0 0 0 146.81 392.05Z" fill="#d076ff"/>
<path d="M142.9 403.5 L147.04 392.13 A12.1 12.1 0 0 0 145.80 391.75Z" fill="#dd7aff"/>
<path d="M142.9 403.5 L146.03 391.81 A12.1 12.1 0 0 0 144.76 391.54Z" fill="#ea7eff"/>
<path d="M142.9 403.5 L145.00 391.58 A12.1 12.1 0 0 0 143.71 391.43Z" fill="#f27ffc"/>
<path d="M142.9 403.5 L143.95 391.45 A12.1 12.1 0 0 0 142.66 391.40Z" fill="#f67df6"/>
<path d="M142.9 403.5 L142.90 391.40 A12.1 12.1 0 0 0 141.60 391.47Z" fill="#f97bf1"/>
<path d="M142.9 403.5 L141.85 391.45 A12.1 12.1 0 0 0 140.56 391.63Z" fill="#fd79eb"/>
<path d="M142.9 403.5 L140.80 391.58 A12.1 12.1 0 0 0 139.54 391.88Z" fill="#ff74e4"/>
<path d="M142.9 403.5 L139.77 391.81 A12.1 12.1 0 0 0 138.53 392.21Z" fill="#ff6edc"/>
<path d="M142.9 403.5 L138.76 392.13 A12.1 12.1 0 0 0 137.57 392.64Z" fill="#ff66d4"/>
<path d="M142.9 403.5 L137.79 392.53 A12.1 12.1 0 0 0 136.64 393.14Z" fill="#ff60cc"/>
<path d="M142.9 403.5 L136.85 393.02 A12.1 12.1 0 0 0 135.76 393.73Z" fill="#ff58c4"/>
<path d="M142.9 403.5 L135.96 393.59 A12.1 12.1 0 0 0 134.94 394.39Z" fill="#ff52bc"/>
<path d="M142.9 403.5 L135.12 394.23 A12.1 12.1 0 0 0 134.17 395.12Z" fill="#ff4ab4"/>
<path d="M142.9 403.5 L134.34 394.94 A12.1 12.1 0 0 0 133.48 395.91Z" fill="#ff44ac"/>
<path d="M142.9 403.5 L133.63 395.72 A12.1 12.1 0 0 0 132.85 396.76Z" fill="#fe3ea3"/>
<path d="M142.9 403.5 L132.99 396.56 A12.1 12.1 0 0 0 132.30 397.66Z" fill="#fb3999"/>
<path d="M142.9 403.5 L132.42 397.45 A12.1 12.1 0 0 0 131.83 398.61Z" fill="#f8348e"/>
<path d="M142.9 403.5 L131.93 398.39 A12.1 12.1 0 0 0 131.45 399.59Z" fill="#f53084"/>
<path d="M142.9 403.5 L131.53 399.36 A12.1 12.1 0 0 0 131.15 400.60Z" fill="#f22b7a"/>
<path d="M142.9 403.5 L131.21 400.37 A12.1 12.1 0 0 0 130.94 401.64Z" fill="#ef2770"/>
<path d="M142.9 403.5 L130.98 401.40 A12.1 12.1 0 0 0 130.83 402.69Z" fill="#ec2265"/>
<path d="M142.9 403.5 L130.85 402.45 A12.1 12.1 0 0 0 130.80 403.74Z" fill="#e91d5b"/>
<path d="M142.9 403.5 L130.80 403.50 A12.1 12.1 0 0 0 130.87 404.80Z" fill="#e12b18"/>
<path d="M142.9 403.5 L130.85 404.55 A12.1 12.1 0 0 0 131.03 405.84Z" fill="#e33316"/>
<path d="M142.9 403.5 L130.98 405.60 A12.1 12.1 0 0 0 131.28 406.86Z" fill="#e53c15"/>
<path d="M142.9 403.5 L131.21 406.63 A12.1 12.1 0 0 0 131.61 407.87Z" fill="#e74514"/>
<path d="M142.9 403.5 L131.53 407.64 A12.1 12.1 0 0 0 132.04 408.83Z" fill="#e94e13"/>
<path d="M142.9 403.5 L131.93 408.61 A12.1 12.1 0 0 0 132.54 409.76Z" fill="#eb5712"/>
<path d="M142.9 403.5 L132.42 409.55 A12.1 12.1 0 0 0 133.13 410.64Z" fill="#ed6011"/>
<path d="M142.9 403.5 L132.99 410.44 A12.1 12.1 0 0 0 133.79 411.46Z" fill="#ee6810"/>
<path d="M142.9 403.5 L133.63 411.28 A12.1 12.1 0 0 0 134.52 412.23Z" fill="#ee6f10"/>
<path d="M142.9 403.5 L134.34 412.06 A12.1 12.1 0 0 0 135.31 412.92Z" fill="#ef7710"/>
<path d="M142.9 403.5 L135.12 412.77 A12.1 12.1 0 0 0 136.16 413.55Z" fill="#ef7e10"/>
<path d="M142.9 403.5 L135.96 413.41 A12.1 12.1 0 0 0 137.06 414.10Z" fill="#ef8510"/>
<path d="M142.9 403.5 L136.85 413.98 A12.1 12.1 0 0 0 138.01 414.57Z" fill="#f08d10"/>
<path d="M142.9 403.5 L137.79 414.47 A12.1 12.1 0 0 0 138.99 414.95Z" fill="#f09410"/>
<path d="M142.9 403.5 L138.76 414.87 A12.1 12.1 0 0 0 140.00 415.25Z" fill="#ee9911"/>
<path d="M142.9 403.5 L139.77 415.19 A12.1 12.1 0 0 0 141.04 415.46Z" fill="#ea9c12"/>
<path d="M142.9 403.5 L140.80 415.42 A12.1 12.1 0 0 0 142.09 415.57Z" fill="#e69f13"/>
<path d="M142.9 403.5 L141.85 415.55 A12.1 12.1 0 0 0 143.14 415.60Z" fill="#e2a115"/>
<path d="M142.9 403.5 L142.90 415.60 A12.1 12.1 0 0 0 144.20 415.53Z" fill="#dea416"/>
<path d="M142.9 403.5 L143.95 415.55 A12.1 12.1 0 0 0 145.24 415.37Z" fill="#daa717"/>
<path d="M142.9 403.5 L145.00 415.42 A12.1 12.1 0 0 0 146.26 415.12Z" fill="#d0a71e"/>
<path d="M142.9 403.5 L146.03 415.19 A12.1 12.1 0 0 0 147.27 414.79Z" fill="#c0a429"/>
<path d="M142.9 403.5 L147.04 414.87 A12.1 12.1 0 0 0 148.23 414.36Z" fill="#b0a134"/>
<path d="M142.9 403.5 L148.01 414.47 A12.1 12.1 0 0 0 149.16 413.86Z" fill="#a09f40"/>
<path d="M142.9 403.5 L148.95 413.98 A12.1 12.1 0 0 0 150.04 413.27Z" fill="#909c4b"/>
<path d="M142.9 403.5 L149.84 413.41 A12.1 12.1 0 0 0 150.86 412.61Z" fill="#809956"/>
<path d="M142.9 403.5 L150.68 412.77 A12.1 12.1 0 0 0 151.63 411.88Z" fill="#729664"/>
<path d="M142.9 403.5 L151.46 412.06 A12.1 12.1 0 0 0 152.32 411.09Z" fill="#659375"/>
<path d="M142.9 403.5 L152.17 411.28 A12.1 12.1 0 0 0 152.95 410.24Z" fill="#599086"/>
<path d="M142.9 403.5 L152.81 410.44 A12.1 12.1 0 0 0 153.50 409.34Z" fill="#4d8d97"/>
<path d="M142.9 403.5 L153.38 409.55 A12.1 12.1 0 0 0 153.97 408.39Z" fill="#408aa8"/>
<path d="M142.9 403.5 L153.87 408.61 A12.1 12.1 0 0 0 154.35 407.41Z" fill="#3783b6"/>
<path d="M142.9 403.5 L154.27 407.64 A12.1 12.1 0 0 0 154.65 406.40Z" fill="#3279c2"/>
<path d="M142.9 403.5 L154.59 406.63 A12.1 12.1 0 0 0 154.86 405.36Z" fill="#2c6fcd"/>
<path d="M142.9 403.5 L154.82 405.60 A12.1 12.1 0 0 0 154.97 404.31Z" fill="#2765d9"/>
<path d="M142.9 403.5 L154.95 404.55 A12.1 12.1 0 0 0 155.00 403.26Z" fill="#225be4"/>
<circle cx="142.9" cy="403.5" r="12.1" fill="url(#wg54)"/>
<path d="M130.8 403.5 L155.0 403.5" stroke="#c8c8c8" stroke-width="1"/>
<circle cx="142.9" cy="403.5" r="12.1" fill="none" stroke="#111" stroke-width="1.1"/>
<path d="M384.0 403.5 L396.10 403.50 A12.1 12.1 0 0 0 396.03 402.20Z" fill="#483aff"/>
<path d="M384.0 403.5 L396.05 402.45 A12.1 12.1 0 0 0 395.87 401.16Z" fill="#5140ff"/>
<path d="M384.0 403.5 L395.92 401.40 A12.1 12.1 0 0 0 395.62 400.14Z" fill="#5a44ff"/>
<path d="M384.0 403.5 L395.69 400.37 A12.1 12.1 0 0 0 395.29 399.13Z" fill="#634aff"/>
<path d="M384.0 403.5 L395.37 399.36 A12.1 12.1 0 0 0 394.86 398.17Z" fill="#6b4eff"/>
<path d="M384.0 403.5 L394.97 398.39 A12.1 12.1 0 0 0 394.36 397.24Z" fill="#7454ff"/>
<path d="M384.0 403.5 L394.48 397.45 A12.1 12.1 0 0 0 393.77 396.36Z" fill="#7d58ff"/>
<path d="M384.0 403.5 L393.91 396.56 A12.1 12.1 0 0 0 393.11 395.54Z" fill="#865eff"/>
<path d="M384.0 403.5 L393.27 395.72 A12.1 12.1 0 0 0 392.38 394.77Z" fill="#9062ff"/>
<path d="M384.0 403.5 L392.56 394.94 A12.1 12.1 0 0 0 391.59 394.08Z" fill="#9d66ff"/>
<path d="M384.0 403.5 L391.78 394.23 A12.1 12.1 0 0 0 390.74 393.45Z" fill="#aa6aff"/>
<path d="M384.0 403.5 L390.94 393.59 A12.1 12.1 0 0 0 389.84 392.90Z" fill="#b76eff"/>
<path d="M384.0 403.5 L390.05 393.02 A12.1 12.1 0 0 0 388.89 392.43Z" fill="#c372ff"/>
<path d="M384.0 403.5 L389.11 392.53 A12.1 12.1 0 0 0 387.91 392.05Z" fill="#d076ff"/>
<path d="M384.0 403.5 L388.14 392.13 A12.1 12.1 0 0 0 386.90 391.75Z" fill="#dd7aff"/>
<path d="M384.0 403.5 L387.13 391.81 A12.1 12.1 0 0 0 385.86 391.54Z" fill="#ea7eff"/>
<path d="M384.0 403.5 L386.10 391.58 A12.1 12.1 0 0 0 384.81 391.43Z" fill="#f27ffc"/>
<path d="M384.0 403.5 L385.05 391.45 A12.1 12.1 0 0 0 383.76 391.40Z" fill="#f67df6"/>
<path d="M384.0 403.5 L384.00 391.40 A12.1 12.1 0 0 0 382.70 391.47Z" fill="#f97bf1"/>
<path d="M384.0 403.5 L382.95 391.45 A12.1 12.1 0 0 0 381.66 391.63Z" fill="#fd79eb"/>
<path d="M384.0 403.5 L381.90 391.58 A12.1 12.1 0 0 0 380.64 391.88Z" fill="#ff74e4"/>
<path d="M384.0 403.5 L380.87 391.81 A12.1 12.1 0 0 0 379.63 392.21Z" fill="#ff6edc"/>
<path d="M384.0 403.5 L379.86 392.13 A12.1 12.1 0 0 0 378.67 392.64Z" fill="#ff66d4"/>
<path d="M384.0 403.5 L378.89 392.53 A12.1 12.1 0 0 0 377.74 393.14Z" fill="#ff60cc"/>
<path d="M384.0 403.5 L377.95 393.02 A12.1 12.1 0 0 0 376.86 393.73Z" fill="#ff58c4"/>
<path d="M384.0 403.5 L377.06 393.59 A12.1 12.1 0 0 0 376.04 394.39Z" fill="#ff52bc"/>
<path d="M384.0 403.5 L376.22 394.23 A12.1 12.1 0 0 0 375.27 395.12Z" fill="#ff4ab4"/>
<path d="M384.0 403.5 L375.44 394.94 A12.1 12.1 0 0 0 374.58 395.91Z" fill="#ff44ac"/>
<path d="M384.0 403.5 L374.73 395.72 A12.1 12.1 0 0 0 373.95 396.76Z" fill="#fe3ea3"/>
<path d="M384.0 403.5 L374.09 396.56 A12.1 12.1 0 0 0 373.40 397.66Z" fill="#fb3999"/>
<path d="M384.0 403.5 L373.52 397.45 A12.1 12.1 0 0 0 372.93 398.61Z" fill="#f8348e"/>
<path d="M384.0 403.5 L373.03 398.39 A12.1 12.1 0 0 0 372.55 399.59Z" fill="#f53084"/>
<path d="M384.0 403.5 L372.63 399.36 A12.1 12.1 0 0 0 372.25 400.60Z" fill="#f22b7a"/>
<path d="M384.0 403.5 L372.31 400.37 A12.1 12.1 0 0 0 372.04 401.64Z" fill="#ef2770"/>
<path d="M384.0 403.5 L372.08 401.40 A12.1 12.1 0 0 0 371.93 402.69Z" fill="#ec2265"/>
<path d="M384.0 403.5 L371.95 402.45 A12.1 12.1 0 0 0 371.90 403.74Z" fill="#e91d5b"/>
<path d="M384.0 403.5 L371.90 403.50 A12.1 12.1 0 0 0 371.97 404.80Z" fill="#e12b18"/>
<path d="M384.0 403.5 L371.95 404.55 A12.1 12.1 0 0 0 372.13 405.84Z" fill="#e33316"/>
<path d="M384.0 403.5 L372.08 405.60 A12.1 12.1 0 0 0 372.38 406.86Z" fill="#e53c15"/>
<path d="M384.0 403.5 L372.31 406.63 A12.1 12.1 0 0 0 372.71 407.87Z" fill="#e74514"/>
<path d="M384.0 403.5 L372.63 407.64 A12.1 12.1 0 0 0 373.14 408.83Z" fill="#e94e13"/>
<path d="M384.0 403.5 L373.03 408.61 A12.1 12.1 0 0 0 373.64 409.76Z" fill="#eb5712"/>
<path d="M384.0 403.5 L373.52 409.55 A12.1 12.1 0 0 0 374.23 410.64Z" fill="#ed6011"/>
<path d="M384.0 403.5 L374.09 410.44 A12.1 12.1 0 0 0 374.89 411.46Z" fill="#ee6810"/>
<path d="M384.0 403.5 L374.73 411.28 A12.1 12.1 0 0 0 375.62 412.23Z" fill="#ee6f10"/>
<path d="M384.0 403.5 L375.44 412.06 A12.1 12.1 0 0 0 376.41 412.92Z" fill="#ef7710"/>
<path d="M384.0 403.5 L376.22 412.77 A12.1 12.1 0 0 0 377.26 413.55Z" fill="#ef7e10"/>
<path d="M384.0 403.5 L377.06 413.41 A12.1 12.1 0 0 0 378.16 414.10Z" fill="#ef8510"/>
<path d="M384.0 403.5 L377.95 413.98 A12.1 12.1 0 0 0 379.11 414.57Z" fill="#f08d10"/>
<path d="M384.0 403.5 L378.89 414.47 A12.1 12.1 0 0 0 380.09 414.95Z" fill="#f09410"/>
<path d="M384.0 403.5 L379.86 414.87 A12.1 12.1 0 0 0 381.10 415.25Z" fill="#ee9911"/>
<path d="M384.0 403.5 L380.87 415.19 A12.1 12.1 0 0 0 382.14 415.46Z" fill="#ea9c12"/>
<path d="M384.0 403.5 L381.90 415.42 A12.1 12.1 0 0 0 383.19 415.57Z" fill="#e69f13"/>
<path d="M384.0 403.5 L382.95 415.55 A12.1 12.1 0 0 0 384.24 415.60Z" fill="#e2a115"/>
<path d="M384.0 403.5 L384.00 415.60 A12.1 12.1 0 0 0 385.30 415.53Z" fill="#dea416"/>
<path d="M384.0 403.5 L385.05 415.55 A12.1 12.1 0 0 0 386.34 415.37Z" fill="#daa717"/>
<path d="M384.0 403.5 L386.10 415.42 A12.1 12.1 0 0 0 387.36 415.12Z" fill="#d0a71e"/>
<path d="M384.0 403.5 L387.13 415.19 A12.1 12.1 0 0 0 388.37 414.79Z" fill="#c0a429"/>
<path d="M384.0 403.5 L388.14 414.87 A12.1 12.1 0 0 0 389.33 414.36Z" fill="#b0a134"/>
<path d="M384.0 403.5 L389.11 414.47 A12.1 12.1 0 0 0 390.26 413.86Z" fill="#a09f40"/>
<path d="M384.0 403.5 L390.05 413.98 A12.1 12.1 0 0 0 391.14 413.27Z" fill="#909c4b"/>
<path d="M384.0 403.5 L390.94 413.41 A12.1 12.1 0 0 0 391.96 412.61Z" fill="#809956"/>
<path d="M384.0 403.5 L391.78 412.77 A12.1 12.1 0 0 0 392.73 411.88Z" fill="#729664"/>
<path d="M384.0 403.5 L392.56 412.06 A12.1 12.1 0 0 0 393.42 411.09Z" fill="#659375"/>
<path d="M384.0 403.5 L393.27 411.28 A12.1 12.1 0 0 0 394.05 410.24Z" fill="#599086"/>
<path d="M384.0 403.5 L393.91 410.44 A12.1 12.1 0 0 0 394.60 409.34Z" fill="#4d8d97"/>
<path d="M384.0 403.5 L394.48 409.55 A12.1 12.1 0 0 0 395.07 408.39Z" fill="#408aa8"/>
<path d="M384.0 403.5 L394.97 408.61 A12.1 12.1 0 0 0 395.45 407.41Z" fill="#3783b6"/>
<path d="M384.0 403.5 L395.37 407.64 A12.1 12.1 0 0 0 395.75 406.40Z" fill="#3279c2"/>
<path d="M384.0 403.5 L395.69 406.63 A12.1 12.1 0 0 0 395.96 405.36Z" fill="#2c6fcd"/>
<path d="M384.0 403.5 L395.92 405.60 A12.1 12.1 0 0 0 396.07 404.31Z" fill="#2765d9"/>
<path d="M384.0 403.5 L396.05 404.55 A12.1 12.1 0 0 0 396.10 403.26Z" fill="#225be4"/>
<circle cx="384.0" cy="403.5" r="12.1" fill="url(#wg55)"/>
<path d="M371.9 403.5 L396.1 403.5" stroke="#c8c8c8" stroke-width="1"/>
<circle cx="384.0" cy="403.5" r="12.1" fill="none" stroke="#111" stroke-width="1.1"/>
<g clip-path="url(#ax)">
<rect x="41.5" y="425.5" width="443.8" height="210.79999999999995" fill="url(#gV)"/>
<path d="M41.5 425.5 L41.5 507.2 L60.0 507.4 L78.3 508.3 L97.0 510.2 L115.7 512.6 L134.0 515.0 L151.8 516.8 L170.0 518.9 L189.5 520.9 L210.0 521.8 L230.0 522.0 L250.0 523.4 L262.0 524.8 L276.0 527.2 L289.0 530.5 L289.0 530.5 L282.2 510.0 L274.8 488.0 L267.8 466.0 L260.9 444.0 L255.2 425.5 Z" fill="url(#gIV)"/>
<path d="M41.5 636.3 L41.5 507.2 L60.0 507.4 L78.3 508.3 L97.0 510.2 L115.7 512.6 L134.0 515.0 L151.8 516.8 L170.0 518.9 L189.5 520.9 L210.0 521.8 L230.0 522.0 L250.0 523.4 L262.0 524.8 L276.0 527.2 L289.0 530.5 L289.0 530.5 L292.0 541.0 L294.2 551.0 L296.0 566.0 L296.8 580.0 L297.6 595.0 L298.2 610.0 L298.8 624.0 L299.3 636.3 Z" fill="url(#gI)"/>
<path d="M289 530.5 L289.0 530.5 L298.0 531.3 L309.8 532.2 L325.0 533.0 L341.8 533.5 L360.0 533.4 L373.7 532.9 L390.0 532.2 L405.0 531.3 L420.0 530.6 L436.0 530.3 L452.0 530.3 L460 530 L460 636.3 L299.3 636.3 L298.8 624.0 L298.2 610.0 L297.6 595.0 L296.8 580.0 L296.0 566.0 L294.2 551.0 L292.0 541.0 L289.0 530.5 Z" fill="url(#gII)"/>
<path d="M437.6 530.3 L437.6 530.3 L437.4 548.5 L436.2 566.0 L435.2 583.5 L434.4 601.0 L433.6 618.7 L432.8 636.3 L460 636.3 L460 530.3 Z" fill="url(#gIII)"/>
<path d="M485.3 425.5 L451.2 425.5 L451.6 443.0 L451.2 460.5 L452.0 478.0 L453.4 495.5 L454.0 513.0 L453.6 531.0 L453.2 548.5 L453.5 566.0 L453.9 583.5 L454.3 601.0 L454.7 618.7 L454.9 636.3 L485.3 636.3 Z" fill="url(#gPM)"/>
<path d="M41.5 507.2 C44.6 507.2 53.9 507.2 60.0 507.4 C66.1 507.6 72.1 507.8 78.3 508.3 C84.5 508.8 90.8 509.5 97.0 510.2 C103.2 510.9 109.5 511.8 115.7 512.6 C121.9 513.4 128.0 514.3 134.0 515.0 C140.0 515.7 145.8 516.1 151.8 516.8 C157.8 517.4 163.7 518.2 170.0 518.9 C176.3 519.6 182.8 520.4 189.5 520.9 C196.2 521.4 203.2 521.6 210.0 521.8 C216.8 522.0 223.3 521.7 230.0 522.0 C236.7 522.3 244.7 522.9 250.0 523.4 C255.3 523.9 257.7 524.2 262.0 524.8 C266.3 525.4 271.5 526.2 276.0 527.2 C280.5 528.2 286.8 530.0 289.0 530.5" fill="none" stroke="#d0d0d0" stroke-width="2.1" stroke-linecap="round"/>
<path d="M255.2 425.5 C256.1 428.6 258.8 437.2 260.9 444.0 C263.0 450.8 265.5 458.7 267.8 466.0 C270.1 473.3 272.4 480.7 274.8 488.0 C277.2 495.3 279.8 502.9 282.2 510.0 C284.6 517.1 287.9 527.1 289.0 530.5" fill="none" stroke="#d0d0d0" stroke-width="2.1" stroke-linecap="round"/>
<path d="M289.0 530.5 C289.5 532.2 291.1 537.6 292.0 541.0 C292.9 544.4 293.5 546.8 294.2 551.0 C294.9 555.2 295.6 561.2 296.0 566.0 C296.4 570.8 296.5 575.2 296.8 580.0 C297.1 584.8 297.4 590.0 297.6 595.0 C297.8 600.0 298.0 605.2 298.2 610.0 C298.4 614.8 298.6 619.6 298.8 624.0 C299.0 628.4 299.2 634.2 299.3 636.3" fill="none" stroke="#d0d0d0" stroke-width="2.1" stroke-linecap="round"/>
<path d="M289.0 530.5 C290.5 530.6 294.5 531.0 298.0 531.3 C301.5 531.6 305.3 531.9 309.8 532.2 C314.3 532.5 319.7 532.8 325.0 533.0 C330.3 533.2 336.0 533.4 341.8 533.5 C347.6 533.6 354.7 533.5 360.0 533.4 C365.3 533.3 368.7 533.1 373.7 532.9 C378.7 532.7 384.8 532.5 390.0 532.2 C395.2 531.9 400.0 531.6 405.0 531.3 C410.0 531.0 414.8 530.8 420.0 530.6 C425.2 530.4 430.7 530.3 436.0 530.3 C441.3 530.2 449.3 530.3 452.0 530.3" fill="none" stroke="#d0d0d0" stroke-width="2.1" stroke-linecap="round"/>
<path d="M437.6 530.3 C437.6 533.3 437.6 542.5 437.4 548.5 C437.2 554.5 436.6 560.2 436.2 566.0 C435.8 571.8 435.5 577.7 435.2 583.5 C434.9 589.3 434.7 595.1 434.4 601.0 C434.1 606.9 433.9 612.8 433.6 618.7 C433.3 624.6 432.9 633.4 432.8 636.3" fill="none" stroke="#d0d0d0" stroke-width="2.1" stroke-linecap="round"/>
<path d="M451.2 425.5 C451.3 428.4 451.6 437.2 451.6 443.0 C451.6 448.8 451.1 454.7 451.2 460.5 C451.3 466.3 451.6 472.2 452.0 478.0 C452.4 483.8 453.1 489.7 453.4 495.5 C453.7 501.3 454.0 507.1 454.0 513.0 C454.0 518.9 453.7 525.1 453.6 531.0 C453.5 536.9 453.2 542.7 453.2 548.5 C453.2 554.3 453.4 560.2 453.5 566.0 C453.6 571.8 453.8 577.7 453.9 583.5 C454.0 589.3 454.2 595.1 454.3 601.0 C454.4 606.9 454.6 612.8 454.7 618.7 C454.8 624.6 454.9 633.4 454.9 636.3" fill="none" stroke="#dcd6e4" stroke-width="1.4"/>
<path d="M45.8 509.4 L52.0 509.4 L48.9 503.2Z" fill="#ffa000"/>
<path d="M45.8 510.2 L52.0 510.2 L48.9 516.4Z" fill="#800080"/>
<path d="M75.4 510.8 L81.6 510.8 L78.5 504.6Z" fill="#ffa000"/>
<path d="M75.4 509.5 L81.6 509.5 L78.5 515.7Z" fill="#800080"/>
<path d="M112.4 514.3 L118.6 514.3 L115.5 508.1Z" fill="#ffa000"/>
<path d="M112.4 510.9 L118.6 510.9 L115.5 517.1Z" fill="#800080"/>
<path d="M149.3 521.4 L155.5 521.4 L152.4 515.2Z" fill="#ffa000"/>
<path d="M149.3 515.9 L155.5 515.9 L152.4 522.1Z" fill="#800080"/>
<path d="M186.3 526.3 L192.5 526.3 L189.4 520.1Z" fill="#ffa000"/>
<path d="M186.3 520.1 L192.5 520.1 L189.4 526.3Z" fill="#800080"/>
<path d="M223.3 533.3 L229.5 533.3 L226.4 527.1Z" fill="#ffa000"/>
<path d="M223.3 522.9 L229.5 522.9 L226.4 529.1Z" fill="#800080"/>
<path d="M260.3 535.4 L266.5 535.4 L263.4 529.2Z" fill="#ffa000"/>
<path d="M260.3 527.8 L266.5 527.8 L263.4 534.0Z" fill="#800080"/>
<path d="M278.8 536.5 L285.0 536.5 L281.9 530.3Z" fill="#ffa000"/>
<path d="M278.8 529.2 L285.0 529.2 L281.9 535.4Z" fill="#800080"/>
<path d="M297.3 541.0 L303.5 541.0 L300.4 534.8Z" fill="#ffa000"/>
<path d="M297.3 533.4 L303.5 533.4 L300.4 539.6Z" fill="#800080"/>
<path d="M334.3 543.8 L340.5 543.8 L337.4 537.6Z" fill="#ffa000"/>
<path d="M334.3 534.8 L340.5 534.8 L337.4 541.0Z" fill="#800080"/>
<path d="M371.2 542.4 L377.5 542.4 L374.4 536.2Z" fill="#ffa000"/>
<path d="M371.2 534.8 L377.5 534.8 L374.4 541.0Z" fill="#800080"/>
<path d="M407.9 537.5 L414.1 537.5 L411.0 531.3Z" fill="#ffa000"/>
<path d="M407.9 528.2 L414.1 528.2 L411.0 534.4Z" fill="#800080"/>
<path d="M426.2 534.5 L432.4 534.5 L429.3 528.3Z" fill="#ffa000"/>
<path d="M426.2 528.2 L432.4 528.2 L429.3 534.4Z" fill="#800080"/>
<path d="M435.4 536.6 L441.6 536.6 L438.5 530.4Z" fill="#ffa000"/>
<path d="M435.4 529.4 L441.6 529.4 L438.5 535.6Z" fill="#800080"/>
<path d="M444.8 538.4 L451.0 538.4 L447.9 532.2Z" fill="#ffa000"/>
<path d="M444.8 530.1 L451.0 530.1 L447.9 536.3Z" fill="#800080"/>
<rect x="135.7" y="423.4" width="4.6" height="4.6" fill="#0a14f0"/>
<rect x="136.4" y="440.7" width="4.6" height="4.6" fill="#0a14f0"/>
<rect x="137.0" y="458.3" width="4.6" height="4.6" fill="#0a14f0"/>
<rect x="137.7" y="475.8" width="4.6" height="4.6" fill="#0a14f0"/>
<rect x="138.6" y="493.4" width="4.6" height="4.6" fill="#0a14f0"/>
<rect x="141.2" y="511.0" width="4.6" height="4.6" fill="#0a14f0"/>
<rect x="187.2" y="528.5" width="4.6" height="4.6" fill="#0a14f0"/>
<rect x="94.7" y="546.2" width="4.6" height="4.6" fill="#0a14f0"/>
<path d="M138.6 425.5 L146.1 512.6" stroke="#8c8c8c" stroke-width="2" stroke-dasharray="6.4 2.9" fill="none"/>
<path d="M134.9 422.0 L135.9 424.1 L138.2 424.4 L136.6 426.0 L137.0 428.3 L134.9 427.2 L132.8 428.3 L133.2 426.0 L131.6 424.4 L133.9 424.1Z" fill="#0f7f88"/>
<path d="M126.9 471.1 L127.9 473.2 L130.2 473.5 L128.6 475.1 L129.0 477.4 L126.9 476.4 L124.8 477.4 L125.2 475.1 L123.6 473.5 L125.9 473.2Z" fill="#0f7f88"/>
<path d="M285.0 422.0 L286.0 424.1 L288.3 424.4 L286.7 426.0 L287.1 428.3 L285.0 427.2 L282.9 428.3 L283.3 426.0 L281.7 424.4 L284.0 424.1Z" fill="#0f7f88"/>
<path d="M281.7 597.7 L282.7 599.8 L285.0 600.1 L283.4 601.7 L283.8 604.0 L281.7 603.0 L279.6 604.0 L280.0 601.7 L278.4 600.1 L280.7 599.8Z" fill="#0f7f88"/>
<path d="M300.0 632.8 L301.0 634.9 L303.3 635.2 L301.7 636.8 L302.1 639.1 L300.0 638.0 L297.9 639.1 L298.3 636.8 L296.7 635.2 L299.0 634.9Z" fill="#0f7f88"/>
<path d="M226.5 531.0 L227.5 533.1 L229.8 533.4 L228.2 535.0 L228.6 537.3 L226.5 536.2 L224.4 537.3 L224.8 535.0 L223.2 533.4 L225.5 533.1Z" fill="#0f7f88"/>
<path d="M392.0 541.5 L393.0 543.6 L395.3 543.9 L393.7 545.5 L394.1 547.8 L392.0 546.8 L389.9 547.8 L390.3 545.5 L388.7 543.9 L391.0 543.6Z" fill="#0f7f88"/>
<path d="M410.0 552.0 L411.0 554.1 L413.3 554.4 L411.7 556.0 L412.1 558.3 L410.0 557.2 L407.9 558.3 L408.3 556.0 L406.7 554.4 L409.0 554.1Z" fill="#0f7f88"/>
<path d="M425.0 597.5 L426.0 599.6 L428.3 599.9 L426.7 601.5 L427.1 603.8 L425.0 602.8 L422.9 603.8 L423.3 601.5 L421.7 599.9 L424.0 599.6Z" fill="#0f7f88"/>
<path d="M432.0 632.8 L433.0 634.9 L435.3 635.2 L433.7 636.8 L434.1 639.1 L432.0 638.0 L429.9 639.1 L430.3 636.8 L428.7 635.2 L431.0 634.9Z" fill="#0f7f88"/>
<path d="M429.5 422.0 L430.5 424.1 L432.8 424.4 L431.2 426.0 L431.6 428.3 L429.5 427.2 L427.4 428.3 L427.8 426.0 L426.2 424.4 L428.5 424.1Z" fill="#0f7f88"/>
<path d="M260.7 450.7 L266.9 450.7 L263.8 444.5Z" fill="#a85a10"/>
<path d="M297.2 601.8 L303.4 601.8 L300.3 595.6Z" fill="#a85a10"/>
<path d="M259.1 421.4 L261.5 425.5 L259.1 429.6 L256.7 425.5Z" fill="#f01010"/>
<path d="M260.5 438.7 L262.9 442.8 L260.5 446.9 L258.1 442.8Z" fill="#f01010"/>
<path d="M266.7 456.4 L269.1 460.5 L266.7 464.6 L264.3 460.5Z" fill="#f01010"/>
<path d="M272.2 473.9 L274.6 478.0 L272.2 482.1 L269.8 478.0Z" fill="#f01010"/>
<path d="M277.1 491.5 L279.5 495.6 L277.1 499.7 L274.7 495.6Z" fill="#f01010"/>
<path d="M282.7 509.2 L285.1 513.3 L282.7 517.4 L280.3 513.3Z" fill="#f01010"/>
<path d="M289.4 526.7 L291.8 530.8 L289.4 534.9 L287.0 530.8Z" fill="#f01010"/>
<path d="M294.5 562.0 L296.9 566.1 L294.5 570.2 L292.1 566.1Z" fill="#f01010"/>
<path d="M297.7 579.6 L300.1 583.7 L297.7 587.8 L295.3 583.7Z" fill="#f01010"/>
<path d="M298.3 597.1 L300.7 601.2 L298.3 605.3 L295.9 601.2Z" fill="#f01010"/>
<path d="M297.7 614.7 L300.1 618.8 L297.7 622.9 L295.3 618.8Z" fill="#f01010"/>
<path d="M296.1 625.3 L298.5 629.4 L296.1 633.5 L293.7 629.4Z" fill="#f01010"/>
<path d="M299.6 628.4 L302.0 632.5 L299.6 636.6 L297.2 632.5Z" fill="#f01010"/>
<path d="M260.7 441.1 L266.9 441.1 L263.8 447.3Z" fill="#0a6a1a"/>
<path d="M297.2 592.2 L303.4 592.2 L300.3 598.4Z" fill="#0a6a1a"/>
<path d="M278.8 491.7 L284.8 491.7 L281.8 485.7Z" fill="#a85a10"/>
<path d="M278.7 489.2 L284.9 489.2 L281.8 495.4Z" fill="#0a6a1a"/>
<circle cx="437.2" cy="548.5" r="2.6" fill="#1fa070"/>
<circle cx="436.1" cy="566.1" r="2.6" fill="#1fa070"/>
<circle cx="435.1" cy="583.5" r="2.6" fill="#1fa070"/>
<circle cx="434.3" cy="601.2" r="2.6" fill="#1fa070"/>
<circle cx="433.7" cy="618.7" r="2.6" fill="#1fa070"/>
<circle cx="432.7" cy="632.8" r="2.6" fill="#1fa070"/>
<circle cx="450.4" cy="425.5" r="2.5" fill="#000"/>
<circle cx="451.2" cy="443.0" r="2.5" fill="#000"/>
<circle cx="450.1" cy="460.5" r="2.5" fill="#000"/>
<circle cx="451.7" cy="478.2" r="2.5" fill="#000"/>
<circle cx="453.8" cy="495.5" r="2.5" fill="#000"/>
<circle cx="454.1" cy="513.2" r="2.5" fill="#000"/>
<circle cx="453.6" cy="531.3" r="2.5" fill="#000"/>
<circle cx="452.5" cy="548.5" r="2.5" fill="#000"/>
<circle cx="453.3" cy="566.0" r="2.5" fill="#000"/>
<circle cx="453.6" cy="583.5" r="2.5" fill="#000"/>
<circle cx="454.1" cy="601.2" r="2.5" fill="#000"/>
<circle cx="454.6" cy="618.7" r="2.5" fill="#000"/>
<circle cx="454.6" cy="629.6" r="2.5" fill="#000"/>
<circle cx="454.6" cy="632.8" r="2.5" fill="#000"/>
<circle cx="452.5" cy="636.3" r="2.5" fill="#000"/>
</g>
<rect x="41.5" y="425.5" width="443.8" height="210.79999999999995" fill="none" stroke="#000" stroke-width="1.2"/>
<path d="M41.5 636.3 v3.8" stroke="#000" stroke-width="1.2"/>
<path d="M78.5 636.3 v2.5" stroke="#000" stroke-width="1.0"/>
<path d="M115.5 636.3 v2.5" stroke="#000" stroke-width="1.0"/>
<path d="M152.4 636.3 v3.8" stroke="#000" stroke-width="1.2"/>
<path d="M189.4 636.3 v2.5" stroke="#000" stroke-width="1.0"/>
<path d="M226.4 636.3 v2.5" stroke="#000" stroke-width="1.0"/>
<path d="M263.4 636.3 v3.8" stroke="#000" stroke-width="1.2"/>
<path d="M300.4 636.3 v2.5" stroke="#000" stroke-width="1.0"/>
<path d="M337.4 636.3 v2.5" stroke="#000" stroke-width="1.0"/>
<path d="M374.4 636.3 v3.8" stroke="#000" stroke-width="1.2"/>
<path d="M411.3 636.3 v2.5" stroke="#000" stroke-width="1.0"/>
<path d="M448.3 636.3 v2.5" stroke="#000" stroke-width="1.0"/>
<path d="M485.3 636.3 v3.8" stroke="#000" stroke-width="1.2"/>
<path d="M41.5 636.3 h-3.8" stroke="#000" stroke-width="1.2"/>
<path d="M41.5 601.2 h-2.5" stroke="#000" stroke-width="1.0"/>
<path d="M41.5 566.0 h-3.8" stroke="#000" stroke-width="1.2"/>
<path d="M41.5 530.9 h-2.5" stroke="#000" stroke-width="1.0"/>
<path d="M41.5 495.8 h-3.8" stroke="#000" stroke-width="1.2"/>
<path d="M41.5 460.6 h-2.5" stroke="#000" stroke-width="1.0"/>
<path d="M41.5 425.5 h-3.8" stroke="#000" stroke-width="1.2"/>
<text x="41.5" y="657.9" font-size="18.6" text-anchor="middle" font-weight="normal" fill="#000" >0</text>
<text x="152.4" y="657.9" font-size="18.6" text-anchor="middle" font-weight="normal" fill="#000" >30</text>
<text x="263.4" y="657.9" font-size="18.6" text-anchor="middle" font-weight="normal" fill="#000" >60</text>
<text x="374.4" y="657.9" font-size="18.6" text-anchor="middle" font-weight="normal" fill="#000" >90</text>
<text x="485.3" y="657.9" font-size="18.6" text-anchor="middle" font-weight="normal" fill="#000" >120</text>
<text x="35.2" y="643.3" font-size="18.6" text-anchor="end" font-weight="normal" fill="#000" >0</text>
<text x="35.2" y="573.0" font-size="18.6" text-anchor="end" font-weight="normal" fill="#000" >2</text>
<text x="35.2" y="502.8" font-size="18.6" text-anchor="end" font-weight="normal" fill="#000" >4</text>
<text x="35.2" y="432.5" font-size="18.6" text-anchor="end" font-weight="normal" fill="#000" >6</text>
<text x="263" y="680.5" font-size="18.6" text-anchor="middle" font-weight="normal" fill="#000" >Temperature (K)</text>
<text transform="translate(14.6,529.5) rotate(-90)" font-size="18.6" text-anchor="middle">Field (T)</text>
<text x="57.6" y="478.4" font-size="12.0" text-anchor="start" font-weight="normal" fill="#000" >Phase IV<tspan font-size="8.2" dy="2.4">A</tspan></text>
<text x="179.5" y="478.4" font-size="12.0" text-anchor="start" font-weight="normal" fill="#000" >Phase IV<tspan font-size="8.2" dy="2.4">B</tspan></text>
<text x="356" y="460.5" font-size="11.8" text-anchor="middle" font-weight="normal" fill="#000" >Phase V</text>
<text x="152.8" y="570.2" font-size="12.0" text-anchor="middle" font-weight="normal" fill="#000" >Phase I</text>
<text x="152.8" y="583.3" font-size="12.0" text-anchor="middle" font-weight="normal" fill="#000" >Double-<tspan font-weight="bold">q</tspan>, unequal</text>
<text x="366.4" y="570.3" font-size="11.8" text-anchor="middle" font-weight="normal" fill="#000" >Phase II</text>
<text x="366.4" y="583.6" font-size="11.8" text-anchor="middle" font-weight="normal" fill="#000" >Spin Meta-Cholesteric</text>
<text transform="translate(474.5,564) rotate(-90)" font-size="12.0" text-anchor="middle">Paramagnetic</text>
<rect x="370.4" y="477.1" width="62.2" height="31.6" rx="3" ry="3" fill="#ffffe6" stroke="#a8a89a" stroke-width="1"/>
<text x="429" y="489" font-size="11.8" text-anchor="end" font-weight="normal" fill="#000" >Phase III</text>
<text x="429" y="502.6" font-size="11.8" text-anchor="end" font-weight="normal" fill="#000" >Double-<tspan font-weight="bold">q</tspan></text>
<path d="M430.4 508.7 L444.2 570" stroke="#1a0808" stroke-opacity="0.48" stroke-width="1.6" fill="none"/>
<path d="M447.0 582.0 L440.6 568.6 L446.0 567.4 Z" fill="#1a0808" fill-opacity="0.5"/>
</svg>
</body></html>
